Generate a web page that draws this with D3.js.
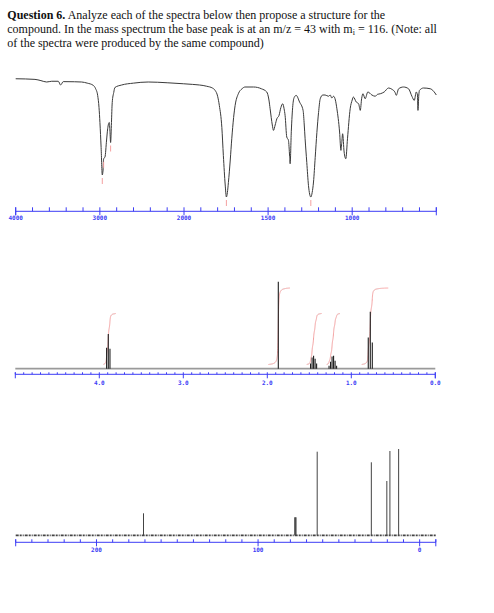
<!DOCTYPE html>
<html><head><meta charset="utf-8">
<script src="https://cdn.jsdelivr.net/npm/d3@7"></script>
<style>body{margin:0;background:#fff}svg{display:block}</style>
</head><body>
<svg id="c" width="494" height="613"></svg>
<script>
// ---------------- data ----------------
const irWn = [4000,3771,3700,3632,3572,3494,3466,3435,3300,3216,3150,3078,3050,3026,3010,2999,2985,2971,2962,2955,2939,2920,2907,2888,2880,2872,2862,2853,2835,2821,2741,2600,2425,2200,2008,1950,1865,1830,1815,1800,1790,1775,1766,1755,1748,1742,1736,1725,1716,1705,1696,1677,1655,1637,1587,1540,1508,1495,1488,1475,1468,1458,1448,1435,1424,1413,1405,1399,1389,1379,1372,1369,1362,1353,1345,1333,1313,1292,1285,1280,1270,1260,1246,1238,1230,1220,1210,1200,1190,1175,1161,1141,1131,1121,1111,1100,1091,1075,1067,1062,1057,1048,1038,1028,1012,1000,993,976,962,952,944,936,923,907,883,863,850,833,810,784,764,745,738,724,695,665,645,631,619,612,609,604,600,576,536,516,500];
const irT  = [97,96.5,95.5,94.4,95,95,92,94.7,94.6,94.4,93.5,91.7,89,83.7,74,62,42,20,24,33,34.4,48,57,62,55,46,62,78,86,90,92,93.5,94.4,93.8,93,92.5,91,89.5,87.7,83,75.7,58,35.7,12,2.4,6,14,32,49,66,75.7,85,89,90.4,90.4,89,86.4,80,73,60,55.7,60,65,67.7,74,77,73,67.7,50.4,47.7,35,29,55,75.7,82,83.7,78.4,71.7,60,49,30,11.7,2.4,6,14.4,34,54,70,81,84,84,83,84,81.6,83,80,73,54.4,39.7,46,53,38.4,33,49,73,80,82.4,78.4,77,71.7,81,85,81,86.4,84,83,84.5,85,86.4,89.6,88.6,86,83.7,89,90.4,89,83,79.7,86.4,84,71.7,84,87.7,89.6,89,87,84];
const irMarkWn = [2971,2955,2872,1748,1246];
const irTickLabels = [4000,3000,2000,1500,1000];

const nmrPpm = [3.913,3.893,3.873, 1.869, 1.485,1.467,1.449,1.431,1.413, 1.265,1.247,1.229,1.211,1.193,1.175, 0.798,0.774,0.750];
const nmrInt = [24,40,23, 100, 6,13,15,11.5,6, 3.5,8,14,15,9,3.5, 36,65.5,30];
const intFrom = [3.952,1.988,1.531,1.293,0.876];
const intTo   = [3.802,1.730,1.352,1.135,0.560];
const intH    = [2,3,2,2,3];
const nmrTickLabels = ["4.0","3.0","2.0","1.0","0.0"];

const cPpm = [170.9,77.3,76.9,76.5,63.4,29.9,20.3,18.4,13.0];
const cInt = [22,18,18,18,83.6,73,54.3,84.3,86.3];
const cTickLabels = ["200","100","0"];

const titleLines = [
  [{t:"Question 6.",b:true},{t:" Analyze each of the spectra below then propose a structure for the"}],
  [{t:"compound. In the mass spectrum the base peak is at an m/z = 43 with m"},{t:"i",sub:true},{t:" = 116. (Note: all"}],
  [{t:"of the spectra were produced by the same compound)"}]
];

// ---------------- drawing ----------------
const svg = d3.select("#c");
const BLUE = "#3c3cf5", PINK = "#f4a0a0";

// title
const tt = svg.append("g").attr("font-family","'Liberation Serif','Times New Roman',serif").attr("font-size",12).attr("fill","#111");
titleLines.forEach((ln,i)=>{
  const t = tt.append("text").attr("x",7.3).attr("y",19+i*13.8);
  ln.forEach(s=>{
    const sp = t.append("tspan").text(s.t);
    if(s.b) sp.attr("font-weight","bold");
    if(s.sub) sp.attr("font-size",8).attr("dy",2.5);
    else if(i===1 && s.t.startsWith(" = ")) sp.attr("dy",-2.5);
  });
});

function drawAxis(g, scale, y, ticks, majors, labels, fmt, up, down, labY){
  const rg = scale.range();
  const r0 = rg[0], r1 = rg[rg.length-1];
  g.append("line").attr("x1",r0).attr("x2",r1).attr("y1",y).attr("y2",y).attr("stroke",BLUE).attr("stroke-width",1);
  g.selectAll(null).data(ticks).join("line")
    .attr("x1",d=>scale(d)).attr("x2",d=>scale(d))
    .attr("y1",y-up).attr("y2",d=>majors.includes(d)?y+down:y)
    .attr("stroke",BLUE).attr("stroke-width",1);
  [r0,r1].forEach(x=>g.append("line").attr("x1",x).attr("x2",x).attr("y1",y-up).attr("y2",y+down).attr("stroke",BLUE));
  g.selectAll(null).data(labels).join("text")
    .attr("x",(d,i)=>scale(majors[i])).attr("y",labY)
    .attr("text-anchor","middle").attr("font-family","'DejaVu Sans Mono',monospace")
    .attr("font-size",6).attr("font-weight","bold").attr("fill",BLUE).text(fmt);
}

// ---- IR ----
const irX = d3.scaleLinear().domain([4000,2000,500]).range([15.7,184,436.3]);
const irY = d3.scaleLinear().domain([0,100]).range([200,75]);
const irG = svg.append("g");
const irPts = irWn.map((w,i)=>[w,irT[i]]);
irG.append("path").datum(irPts)
  .attr("d", d3.line().x(d=>irX(d[0])).y(d=>irY(d[1])).curve(d3.curveMonotoneX))
  .attr("fill","none").attr("stroke","#3a3a3a").attr("stroke-width",1);
irG.selectAll(null).data(irMarkWn).join("line")
  .attr("x1",d=>irX(d)).attr("x2",d=>irX(d))
  .attr("y1",d=>irY(irT[irWn.indexOf(d)])+3).attr("y2",d=>irY(irT[irWn.indexOf(d)])+9)
  .attr("stroke",PINK).attr("stroke-width",1);
const irTicks = d3.range(4000,2000,-200).concat(d3.range(2000,499,-100));
drawAxis(irG, irX, 211.3, irTicks, irTickLabels, irTickLabels, d=>d, 4, 4, 220.2);

// ---- 1H NMR ----
const hX = d3.scaleLinear().domain([5,0]).range([15.3,435.3]);
const hY = d3.scaleLinear().domain([0,100]).range([368.7,281.7]);
const intY = d3.scaleLinear().domain([0,3]).range([364.5,288]);
const hG = svg.append("g");
// integrals (cumulative of Lorentzian-broadened lines)
const hw = 0.0045;
intFrom.forEach((f,k)=>{
  const to = intTo[k];
  const idx = nmrPpm.map((p,i)=>i).filter(i=>nmrPpm[i]<=f && nmrPpm[i]>=to);
  const grid = d3.range(f, to-1e-9, -0.001);
  let acc=0; const cum=[];
  grid.forEach(p=>{
    let s=0; idx.forEach(i=>{ const d=(p-nmrPpm[i])/hw; s+=nmrInt[i]/(1+d*d); });
    acc+=s; cum.push([p,acc]);
  });
  const tot = acc;
  hG.append("path").datum(cum)
    .attr("d", d3.line().x(d=>hX(d[0])).y(d=>intY(d[1]/tot*intH[k])))
    .attr("fill","none").attr("stroke",PINK).attr("stroke-width",1);
});
hG.append("line").attr("x1",15.3).attr("x2",435.3).attr("y1",368.7).attr("y2",368.7)
  .attr("stroke","#9a9a9a").attr("stroke-width",1.8);
hG.selectAll(null).data(nmrPpm).join("line")
  .attr("x1",d=>hX(d)).attr("x2",d=>hX(d))
  .attr("y1",hY(0)).attr("y2",(d,i)=>hY(nmrInt[i]))
  .attr("stroke","#1e1e1e").attr("stroke-width",1.1);
const hTicks = d3.range(50,-1,-1).map(v=>v/10);
drawAxis(hG, hX, 374.3, hTicks, [4,3,2,1,0], nmrTickLabels, d=>d, 2, 4, 385);

// ---- 13C NMR ----
const cX = d3.scaleLinear().domain([250,-10]).range([15.7,435.8]);
const cY = d3.scaleLinear().domain([0,100]).range([535.3,435.3]);
const cG = svg.append("g");
cG.append("line").attr("x1",15.7).attr("x2",435.8).attr("y1",535.3).attr("y2",535.3)
  .attr("stroke","#444").attr("stroke-width",1.8).attr("stroke-dasharray","3,1,2,1,1,1");
cG.selectAll(null).data(cPpm).join("line")
  .attr("x1",d=>cX(d)).attr("x2",d=>cX(d))
  .attr("y1",cY(0)).attr("y2",(d,i)=>cY(cInt[i]))
  .attr("stroke","#444").attr("stroke-width",1);
const cTicks = d3.range(250,-11,-10);
drawAxis(cG, cX, 542.3, cTicks, [200,100,0], cTickLabels, d=>d, 3, 4, 552);
</script>
</body></html>
